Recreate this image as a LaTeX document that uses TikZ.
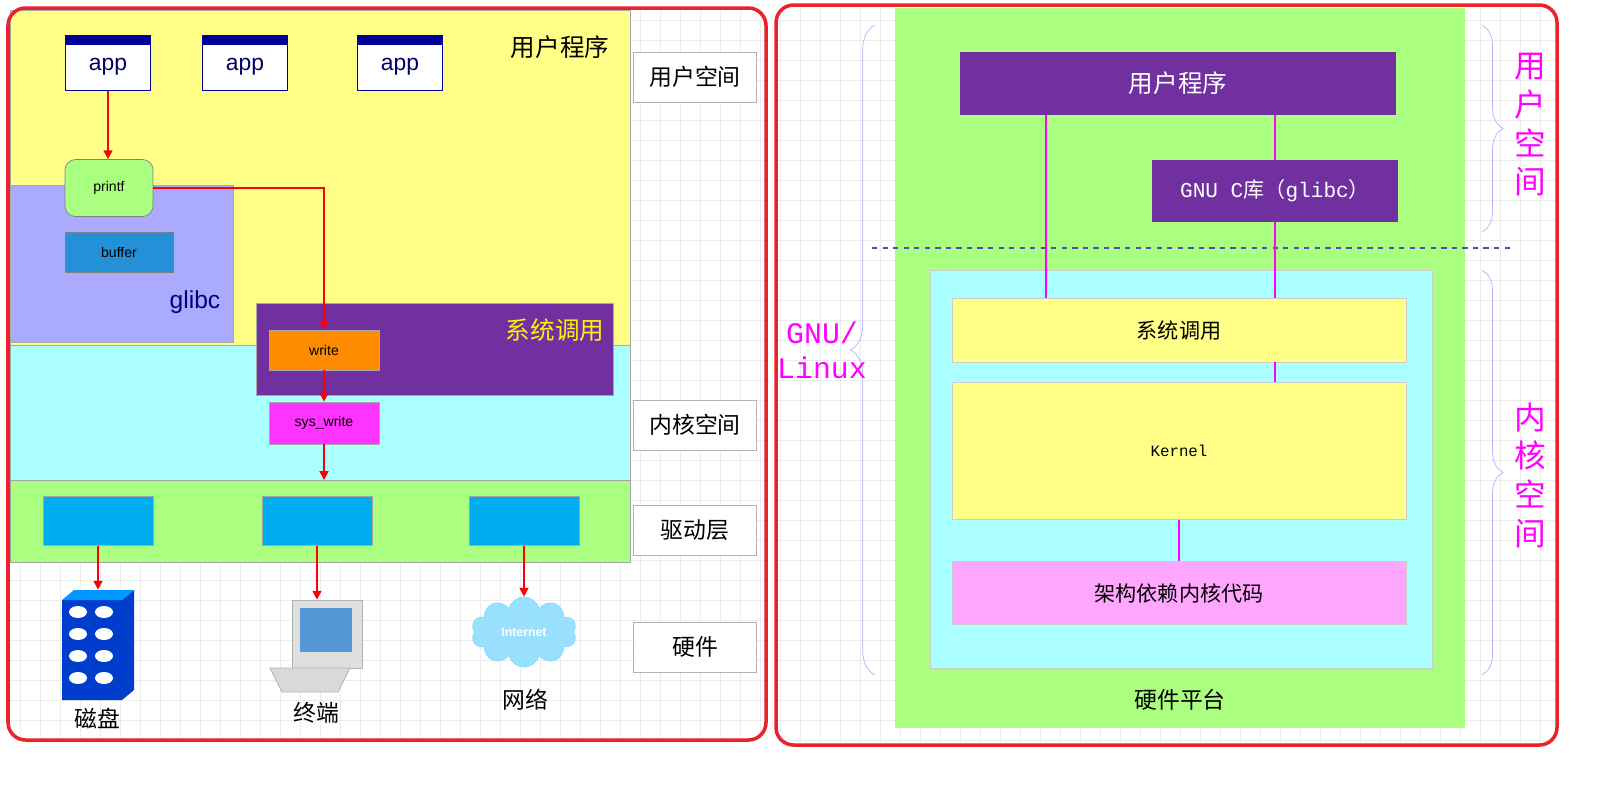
\documentclass[tikz,border=0pt]{standalone}
\usepackage{fontspec}
\setmainfont{Liberation Sans}
\newfontfamily\cjk{Noto Sans CJK SC}
\newfontfamily\mono{Liberation Mono}
\usetikzlibrary{positioning,shapes.symbols,decorations.pathreplacing,arrows.meta}
\definecolor{ylw}{HTML}{FFFF88}
\definecolor{cyn}{HTML}{AAFFFF}
\definecolor{grn}{HTML}{AAFF80}
\definecolor{purp}{HTML}{7030A0}
\definecolor{lav}{HTML}{AAAAFF}
\definecolor{mag}{HTML}{FF00FF}
\definecolor{frame}{HTML}{E8232A}
\tikzset{
 box/.style={draw=gray!70, inner sep=0pt},
 lbl/.style={draw=gray!60, fill=white, minimum width=2.46cm, minimum height=1cm, font=\cjk\fontsize{13}{13}\selectfont},
 win/.style={draw=blue!60!black, line width=1pt, fill=white},
 red arrow/.style={draw=red, line width=1pt, -{Triangle[length=5pt,width=5pt]}},
 pink line/.style={draw=mag, line width=1.5pt},
 rbox/.style={draw=none, font=\cjk\fontsize{12}{12}\selectfont}
}
\begin{document}
\begin{tikzpicture}[x=0.02cm, y=-0.02cm]
\useasboundingbox (0,0) rectangle (1620,796);
\fill[white] (0,0) rectangle (1620,796);
% faint grid behind both panels
\foreach \g in {20,40,...,760} \draw[gray!15] (\g,10) -- (\g,738);
\foreach \g in {20,40,...,730} \draw[gray!15] (10,\g) -- (765,\g);
\foreach \g in {780,800,...,1550} \draw[gray!15] (\g,8) -- (\g,742);
\foreach \g in {20,40,...,740} \draw[gray!15] (778,\g) -- (1555,\g);

% ---------- left panel ----------
\fill[ylw] (10,10) rectangle (630,345);
\fill[cyn] (10,345) rectangle (630,480);
\fill[grn] (10,480) rectangle (630,562);
\draw[gray!70] (10,10) rectangle (630,562) (10,345) -- (630,345) (10,480) -- (630,480);
\node[font=\cjk\fontsize{14}{14}\selectfont] (usr) at (560,47) {用户程序};
\foreach \x/\n in {108/a1, 245/a2, 400/a3} {
  \node[win, minimum width=1.7cm, minimum height=1.1cm] (\n) at (\x,63) {};
  \fill[blue!60!black] ([yshift=-1pt]\n.north west) rectangle ([yshift=-6pt]\n.north east);
  \node at ([yshift=-2pt]\n.center) {\fontsize{13}{13}\selectfont\color{blue!40!black}app};
}
\fill[lav, draw=gray!70] (10,185) rectangle (233,342);
\node[font=\fontsize{14}{14}\selectfont, text=blue!50!black] (glibc) at (195,302) {glibc};
\node[box, rounded corners=6pt, fill=grn, draw=gray, minimum width=1.76cm, minimum height=1.14cm, font=\footnotesize] (printf) at (109,188) {printf};
\node[box, fill=cyan!70!blue!90, draw=gray, minimum width=2.16cm, minimum height=0.8cm, font=\footnotesize] (buf) at (119,252) {buffer};
\fill[purp, draw=gray!70] (256,303) rectangle (613,395);
\node[font=\cjk\fontsize{14}{14}\selectfont, text=yellow] (sys) at (555,330) {系统调用};
\node[box, fill=orange!90!yellow, minimum width=2.2cm, minimum height=0.8cm, font=\footnotesize] (write) at (324,350) {write};
\node[box, fill=mag!80!white, minimum width=2.2cm, minimum height=0.84cm, font=\footnotesize] (sysw) at (324,423) {sys\_write};
\coordinate (kbot) at (324,480);
\foreach \x/\n in {98/d1, 317/d2, 524/d3}
  \node[box, fill=cyan, minimum width=2.2cm, minimum height=0.98cm] (\n) at (\x,521) {};
\node[lbl] (lu) at (695,77) {用户空间};
\node[lbl] (lk) at (695,425) {内核空间};
\node[lbl] (ld) at (695,530) {驱动层};
\node[lbl] (lh) at (695,647) {硬件};
% disk
\fill[blue!70!cyan!80!black] (62,600) -- (122,600) -- (134,590) -- (134,690) -- (122,700) -- (62,700) -- cycle;
\fill[blue!40!cyan] (62,600) -- (74,590) -- (134,590) -- (122,600) -- cycle;
\node[draw=none, minimum width=1.2cm, minimum height=2cm] (disk) at (98,640) {};
\foreach \yy in {612,634,656,678} \foreach \xx in {78,104}
  \fill[white] (\xx,\yy) ellipse (9 and 6);
\node[font=\cjk\fontsize{13}{13}\selectfont] (tdisk) at (97,718) {磁盘};
% terminal
\fill[gray!25, draw=gray!60] (292,600) rectangle (362,668);
\fill[cyan!60!blue!70] (300,608) rectangle (352,652);
\fill[gray!30, draw=gray!60] (270,668) -- (350,668) -- (338,692) -- (282,692) -- cycle;
\node[draw=none, minimum width=1.4cm, minimum height=1.6cm] (term) at (317,640) {};
\node[font=\cjk\fontsize{13}{13}\selectfont] (tterm) at (316,713) {终端};
% cloud
\node[cloud, cloud puffs=10, aspect=1.8, fill=blue!30!cyan!40, draw=blue!30!cyan!50, minimum width=2.1cm, minimum height=1.4cm, text=white, font=\scriptsize\bfseries] (net) at (524,632) {Internet};
\node[font=\cjk\fontsize{13}{13}\selectfont] (tnet) at (525,700) {网络};
% arrows
\draw[red arrow] (a1.south) -- (a1.south |- printf.north);
\draw[red arrow] (printf.east) -| (write.north);
\draw[red arrow] (write) -- (sysw);
\draw[red arrow] (sysw) -- (kbot);
\draw[red arrow] (d1.south) -- (d1.south |- disk.north);
\draw[red arrow] (d2.south) -- (term.north);
\draw[red arrow] (d3.south) -- (d3.south |- net.north);
\draw[frame, line width=2pt, rounded corners=10pt] (8,8) rectangle (766,740);

% ---------- right panel ----------
\fill[grn] (895,8) rectangle (1465,728);
\node[rbox, fill=purp, text=white, minimum width=8.72cm, minimum height=1.26cm, font=\cjk\fontsize{14}{14}\selectfont] (uprog) at (1178,83) {用户程序};
\node[rbox, fill=purp, text=white, minimum width=4.92cm, minimum height=1.24cm] (gnuc) at (1275,191) {\mono GNU C\cjk 库（\mono glibc\cjk ）};
\draw[dashed, blue!40!gray, line width=1pt] (872,248) -- (1515,248);
\fill[cyn, draw=gray!40] (930,270) rectangle (1432,668);
\node[rbox, fill=ylw, draw=gray!40, minimum width=9.08cm, minimum height=1.28cm] (sc) at (1179,330) {系统调用};
\node[rbox, fill=ylw, draw=gray!40, minimum width=9.08cm, minimum height=2.74cm, font=\mono\small] (kern) at (1179,451) {Kernel};
\node[rbox, fill=mag!35, draw=gray!40, minimum width=9.08cm, minimum height=1.26cm] (arch) at (1179,593) {架构依赖内核代码};
\node[font=\cjk\fontsize{13}{13}\selectfont] (hw) at (1180,700) {硬件平台};
\draw[pink line] (uprog.south -| 1046,0) -- (sc.north -| 1046,0);
\draw[pink line] (uprog.south -| gnuc.north) -- (gnuc.north);
\draw[pink line] (gnuc.south) -- (sc.north -| gnuc.south);
\draw[pink line] (sc.south -| 1275,0) -- (kern.north -| 1275,0);
\draw[pink line] (kern.south) -- (arch.north);
% braces
\draw[blue!30, decorate, decoration={brace, amplitude=14pt}] (875,675) -- (875,25);
\draw[blue!30, decorate, decoration={brace, amplitude=12pt}] (1482,25) -- (1482,232);
\draw[blue!30, decorate, decoration={brace, amplitude=12pt}] (1482,270) -- (1482,675);
\node[text=mag, align=center, font=\mono\fontsize{17}{20}\selectfont] (gl) at (822,350) {GNU/\\Linux};
\node[text=mag, align=center, font=\cjk\fontsize{18}{22}\selectfont] (vu) at (1530,125) {用\\户\\空\\间};
\node[text=mag, align=center, font=\cjk\fontsize{18}{22}\selectfont] (vk) at (1530,475) {内\\核\\空\\间};
\draw[frame, line width=2pt, rounded corners=10pt] (776,5) rectangle (1557,745);
\end{tikzpicture}
\end{document}
